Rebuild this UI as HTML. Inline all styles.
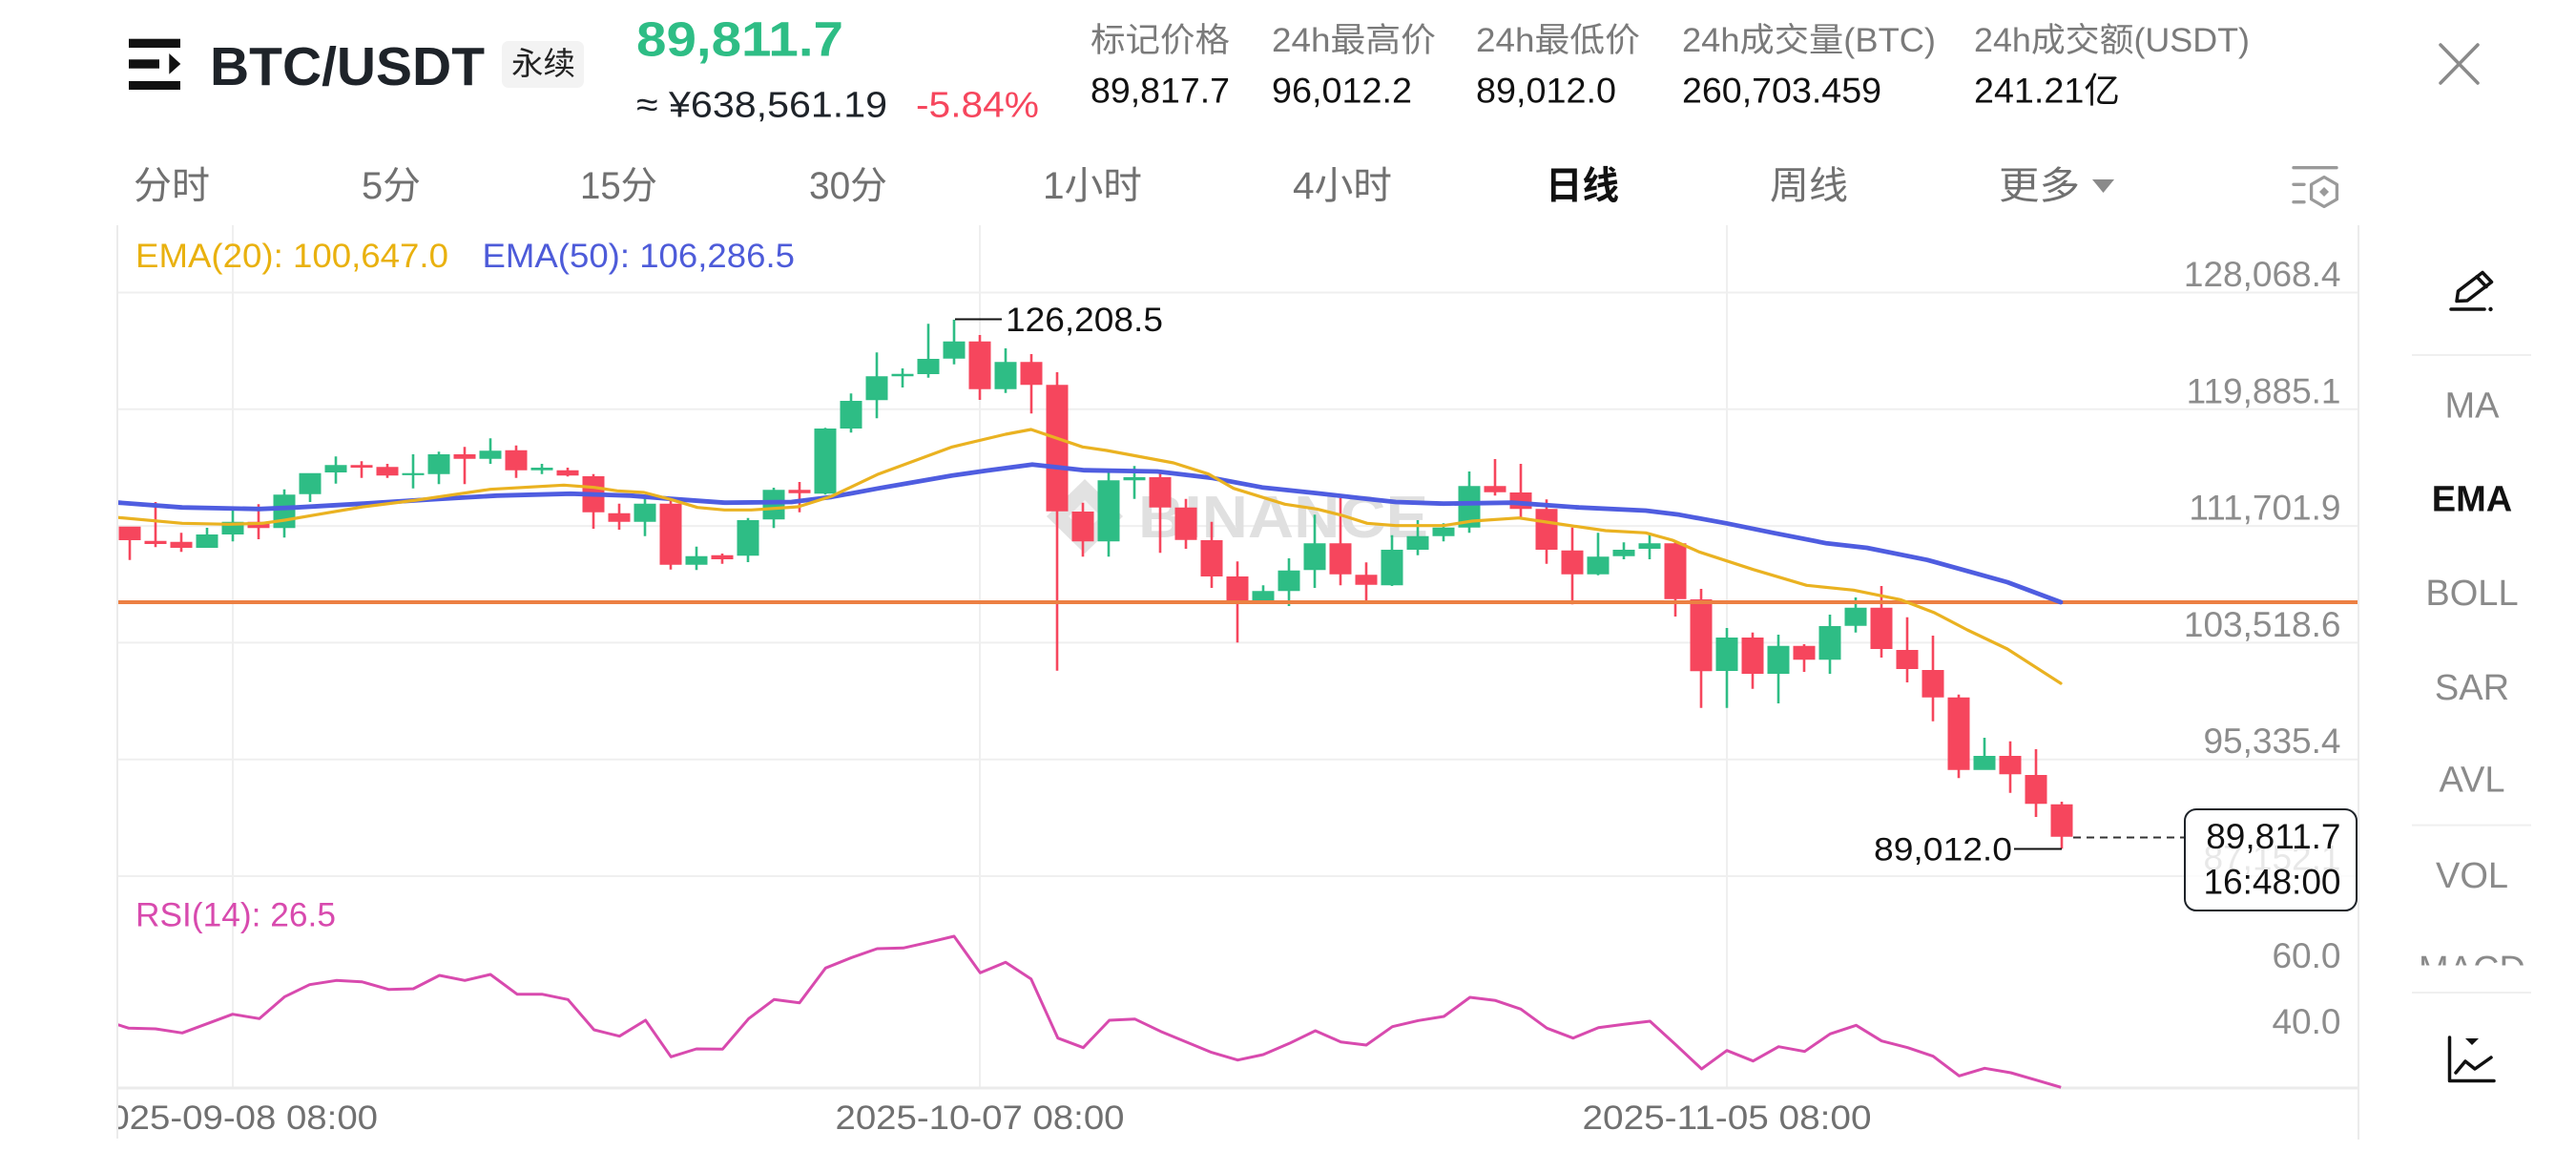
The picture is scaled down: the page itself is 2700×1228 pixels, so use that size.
<!DOCTYPE html>
<html>
<head>
<meta charset="utf-8">
<style>
html,body{margin:0;padding:0;background:#fff;overflow:hidden;}
svg{display:block;}
text{font-family:"Liberation Sans","Noto Sans CJK SC",sans-serif;}
</style>
</head>
<body>
<svg xmlns="http://www.w3.org/2000/svg" width="2700" height="1228" viewBox="0 0 2700 1228">
<defs>
<clipPath id="cc"><rect x="124" y="230" width="2347" height="980"/></clipPath>
<clipPath id="macd"><rect x="2480" y="980" width="220" height="31.5"/></clipPath>
</defs>
<rect width="2700" height="1228" fill="#fff"/>

<!-- Header -->
<g fill="#111">
<rect x="135" y="40.7" width="54" height="9.3"/>
<rect x="135" y="62.3" width="32" height="9.4"/>
<polygon points="177.3,56 189.3,67 177.3,77.7"/>
<rect x="135" y="85" width="54" height="9"/>
</g>
<text x="220" y="89" font-size="57" font-weight="bold" fill="#1e2329" textLength="288" lengthAdjust="spacingAndGlyphs">BTC/USDT</text>
<rect x="526" y="43" width="86" height="49" rx="7" fill="#f3f3f3"/>
<text x="536" y="78" font-size="33" fill="#222" textLength="67" lengthAdjust="spacingAndGlyphs">永续</text>
<text x="667" y="58.3" font-size="51" font-weight="bold" fill="#2ebd85" textLength="217" lengthAdjust="spacingAndGlyphs">89,811.7</text>
<text x="667" y="122.7" font-size="38" fill="#1e2329" textLength="263" lengthAdjust="spacingAndGlyphs">≈ ¥638,561.19</text>
<text x="960" y="122.7" font-size="38" fill="#f6465d" textLength="129" lengthAdjust="spacingAndGlyphs">-5.84%</text>

<g font-size="35" fill="#7a7a7a">
<text x="1143" y="54" textLength="146" lengthAdjust="spacingAndGlyphs">标记价格</text>
<text x="1333" y="54" textLength="172" lengthAdjust="spacingAndGlyphs">24h最高价</text>
<text x="1547" y="54" textLength="172" lengthAdjust="spacingAndGlyphs">24h最低价</text>
<text x="1763" y="54" textLength="266" lengthAdjust="spacingAndGlyphs">24h成交量(BTC)</text>
<text x="2069" y="54" textLength="289" lengthAdjust="spacingAndGlyphs">24h成交额(USDT)</text>
</g>
<g font-size="37" fill="#111">
<text x="1143" y="107.3" textLength="146" lengthAdjust="spacingAndGlyphs">89,817.7</text>
<text x="1333" y="107.3" textLength="147" lengthAdjust="spacingAndGlyphs">96,012.2</text>
<text x="1547" y="107.3" textLength="147" lengthAdjust="spacingAndGlyphs">89,012.0</text>
<text x="1763" y="107.3" textLength="209" lengthAdjust="spacingAndGlyphs">260,703.459</text>
<text x="2069" y="107.3" textLength="153" lengthAdjust="spacingAndGlyphs">241.21亿</text>
</g>
<g stroke="#8a8a8a" stroke-width="3.5" stroke-linecap="round">
<line x1="2558" y1="47" x2="2597" y2="87"/>
<line x1="2597" y1="47" x2="2558" y2="87"/>
</g>

<!-- Tabs -->
<g font-size="40" fill="#707070">
<text x="140" y="208" textLength="80" lengthAdjust="spacingAndGlyphs">分时</text>
<text x="379" y="208" textLength="62" lengthAdjust="spacingAndGlyphs">5分</text>
<text x="608" y="208" textLength="81" lengthAdjust="spacingAndGlyphs">15分</text>
<text x="848" y="208" textLength="82" lengthAdjust="spacingAndGlyphs">30分</text>
<text x="1093" y="208" textLength="104" lengthAdjust="spacingAndGlyphs">1小时</text>
<text x="1355" y="208" textLength="104" lengthAdjust="spacingAndGlyphs">4小时</text>
<text x="1620" y="208" textLength="77" lengthAdjust="spacingAndGlyphs" font-weight="bold" fill="#111">日线</text>
<text x="1855" y="208" textLength="82" lengthAdjust="spacingAndGlyphs">周线</text>
<text x="2095" y="208" textLength="85" lengthAdjust="spacingAndGlyphs">更多</text>
</g>
<polygon points="2193,188 2216,188 2204.5,202" fill="#8a8a8a"/>
<g stroke="#9a9a9a" stroke-width="3.3" stroke-linecap="round" fill="none">
<line x1="2404" y1="175.7" x2="2449" y2="175.7"/>
<line x1="2404" y1="193.3" x2="2415" y2="193.3"/>
<line x1="2404" y1="211.7" x2="2415" y2="211.7"/>
<polygon points="2436,185.5 2449.4,193.25 2449.4,208.75 2436,216.5 2422.6,208.75 2422.6,193.25" stroke-linejoin="round"/>
</g>
<polygon points="2436,196 2441,201 2436,206 2431,201" fill="#9a9a9a"/>

<!-- Grid -->
<g stroke="#efefef" stroke-width="2">
<line x1="123" y1="306.5" x2="2472" y2="306.5"/>
<line x1="123" y1="428.8" x2="2472" y2="428.8"/>
<line x1="123" y1="551.1" x2="2472" y2="551.1"/>
<line x1="123" y1="673.4" x2="2472" y2="673.4"/>
<line x1="123" y1="795.7" x2="2472" y2="795.7"/>
<line x1="123" y1="918" x2="2472" y2="918"/>
<line x1="244" y1="236" x2="244" y2="1140"/>
<line x1="1027" y1="236" x2="1027" y2="1140"/>
<line x1="1810" y1="236" x2="1810" y2="1140"/>
</g>
<line x1="123" y1="236" x2="123" y2="1193" stroke="#ebebeb" stroke-width="2"/>
<line x1="2472" y1="236" x2="2472" y2="1194" stroke="#ebebeb" stroke-width="2"/>
<line x1="123" y1="1140" x2="2472" y2="1140" stroke="#ebebeb" stroke-width="3"/>

<!-- Watermark -->
<g fill="#e2e2e2">
<polygon points="1137,502 1177,541 1137,580 1097,541"/>
</g>
<polygon points="1137,524 1154,541 1137,558 1120,541" fill="#f4f4f4"/>
<text x="1193" y="563" font-size="62" font-weight="bold" fill="#e0e0e0" textLength="304" lengthAdjust="spacingAndGlyphs">BINANCE</text>

<g clip-path="url(#cc)">
<!-- Red candles -->
<path fill="#f6465d" d="
M134.7 551.7h2.6V586.7h-2.6z M124.5 551.7h23V566h-23z
M161.7 526h2.6V573.3h-2.6z M151.5 566.7h23V570h-23z
M188.7 558.3h2.6V578.3h-2.6z M178.5 567.7h23V574h-23z
M269.7 528.3h2.6V565h-2.6z M259.5 546.7h23V553.3h-23z
M377.7 483.3h2.6V500.7h-2.6z M367.5 487.3h23V490h-23z
M404.7 486h2.6V500.7h-2.6z M394.5 489.3h23V498.3h-23z
M485.7 468.3h2.6V507.3h-2.6z M475.5 476h23V480.7h-23z
M539.7 466.7h2.6V500.7h-2.6z M529.5 471.7h23V492.7h-23z
M593.7 490h2.6V499.3h-2.6z M583.5 492.7h23V498.3h-23z
M620.7 496.7h2.6V554h-2.6z M610.5 499h23V536.7h-23z
M647.7 527.7h2.6V555h-2.6z M637.5 537.7h23V546.7h-23z
M701.7 523.3h2.6V596.7h-2.6z M691.5 527.7h23V591.7h-23z
M755.7 580h2.6V590.7h-2.6z M745.5 581.7h23V586h-23z
M836.7 505h2.6V536.7h-2.6z M826.5 513.3h23V516.7h-23z
M1025.7 351h2.6V419h-2.6z M1015.5 357.7h23V407.7h-23z
M1079.7 371h2.6V433.3h-2.6z M1069.5 379.3h23V403.3h-23z
M1106.7 390h2.6V702.7h-2.6z M1096.5 403.3h23V535.7h-23z
M1133.7 526.7h2.6V583.3h-2.6z M1123.5 536h23V567.3h-23z
M1214.7 495h2.6V579.3h-2.6z M1204.5 500h23V531.7h-23z
M1241.7 522.7h2.6V575h-2.6z M1231.5 531.7h23V565.7h-23z
M1268.7 546.7h2.6V616h-2.6z M1258.5 566h23V604h-23z
M1295.7 588.3h2.6V673.3h-2.6z M1285.5 604h23V630h-23z
M1403.7 521.7h2.6V613.3h-2.6z M1393.5 569.3h23V601.7h-23z
M1430.7 589.3h2.6V630h-2.6z M1420.5 602.3h23V612.7h-23z
M1565.7 481h2.6V519.3h-2.6z M1555.5 509.3h23V515.7h-23z
M1592.7 486h2.6V541.7h-2.6z M1582.5 516h23V533.3h-23z
M1619.7 523.3h2.6V590.7h-2.6z M1609.5 533.3h23V576h-23z
M1646.7 552.7h2.6V633.3h-2.6z M1636.5 576.7h23V601.7h-23z
M1754.7 566.7h2.6V646h-2.6z M1744.5 569.3h23V627.7h-23z
M1781.7 617h2.6V741.7h-2.6z M1771.5 628h23V703.3h-23z
M1835.7 662.7h2.6V721.7h-2.6z M1825.5 668h23V706h-23z
M1889.7 675h2.6V704h-2.6z M1879.5 676.7h23V691.3h-23z
M1970.7 614h2.6V689h-2.6z M1960.5 636.7h23V680h-23z
M1997.7 646.7h2.6V715h-2.6z M1987.5 681h23V701h-23z
M2024.7 666h2.6V755.7h-2.6z M2014.5 702h23V730.7h-23z
M2051.7 727.7h2.6V815.3h-2.6z M2041.5 730.7h23V806.7h-23z
M2105.7 776.7h2.6V830.7h-2.6z M2095.5 792h23V811.3h-23z
M2132.7 785h2.6V856h-2.6z M2122.5 812h23V842.3h-23z
M2159.7 840h2.6V889.3h-2.6z M2149.5 842.7h23V876.7h-23z"/>
<!-- Green candles -->
<path fill="#2ebd85" d="
M215.7 553h2.6V574h-2.6z M205.5 560h23V574h-23z
M242.7 535h2.6V567.3h-2.6z M232.5 546.7h23V560h-23z
M296.7 512.7h2.6V563.3h-2.6z M286.5 518.3h23V553.3h-23z
M323.7 495.7h2.6V526h-2.6z M313.5 495.7h23V517.7h-23z
M350.7 478.3h2.6V506.7h-2.6z M340.5 487.3h23V495h-23z
M431.7 476h2.6V511.7h-2.6z M421.5 495.7h23V497.9h-23z
M458.7 473.3h2.6V507.3h-2.6z M448.5 476h23V496.7h-23z
M512.7 459.3h2.6V486h-2.6z M502.5 472.3h23V480.7h-23z
M566.7 486h2.6V496.7h-2.6z M556.5 490h23V492.7h-23z
M674.7 521.7h2.6V561.7h-2.6z M664.5 527.7h23V546.7h-23z
M728.7 572.7h2.6V597.3h-2.6z M718.5 582.7h23V591.7h-23z
M782.7 542.7h2.6V589h-2.6z M772.5 545h23V582.3h-23z
M809.7 511h2.6V553.3h-2.6z M799.5 513.3h23V544.3h-23z
M863.7 448.3h2.6V518.3h-2.6z M853.5 449h23V517.3h-23z
M890.7 412.3h2.6V453.3h-2.6z M880.5 420h23V449h-23z
M917.7 369.3h2.6V438.3h-2.6z M907.5 394.3h23V419.3h-23z
M944.7 386h2.6V406h-2.6z M934.5 391.7h23V394.3h-23z
M971.7 339.3h2.6V395.7h-2.6z M961.5 376h23V392h-23z
M998.7 335h2.6V381.7h-2.6z M988.5 357.7h23V375.7h-23z
M1052.7 365h2.6V411.7h-2.6z M1042.5 379.3h23V407.7h-23z
M1160.7 493.3h2.6V583.3h-2.6z M1150.5 503.3h23V567.3h-23z
M1187.7 488.3h2.6V522.7h-2.6z M1177.5 500h23V503.3h-23z
M1322.7 613.3h2.6V630h-2.6z M1312.5 619.3h23V630h-23z
M1349.7 585h2.6V635h-2.6z M1339.5 597.7h23V619.3h-23z
M1376.7 539.3h2.6V616h-2.6z M1366.5 569.3h23V597.3h-23z
M1457.7 560.7h2.6V614h-2.6z M1447.5 576h23V613.3h-23z
M1484.7 545h2.6V581.7h-2.6z M1474.5 561.7h23V576h-23z
M1511.7 548.3h2.6V567.3h-2.6z M1501.5 552.7h23V561.7h-23z
M1538.7 494h2.6V558.3h-2.6z M1528.5 509.3h23V552.7h-23z
M1673.7 558.3h2.6V602.7h-2.6z M1663.5 583.3h23V601.7h-23z
M1700.7 568.3h2.6V586h-2.6z M1690.5 576h23V582.7h-23z
M1727.7 560h2.6V586h-2.6z M1717.5 569.3h23V575h-23z
M1808.7 658h2.6V741.7h-2.6z M1798.5 668h23V703h-23z
M1862.7 665h2.6V737h-2.6z M1852.5 676.7h23V706h-23z
M1916.7 644h2.6V706h-2.6z M1906.5 656h23V691.3h-23z
M1943.7 626h2.6V662.7h-2.6z M1933.5 636.7h23V655.7h-23z
M2078.7 773h2.6V806.7h-2.6z M2068.5 792h23V806.7h-23z"/>

<!-- Orange horizontal line -->
<line x1="123" y1="631" x2="2472" y2="631" stroke="#ec8043" stroke-width="4"/>

<!-- EMA50 -->
<polyline fill="none" stroke="#4f5de0" stroke-width="4.8" stroke-linejoin="round" stroke-linecap="round" points="120,526.5 124.6,526.7 191,531.7 271.9,533.3 310.5,531.7 380.6,527.7 450.8,523.3 521,519.3 598,517.3 661,519.3 703.3,522.7 759.4,526.7 829.6,526 871.6,520.7 920.7,511.7 998,498.3 1033,493.3 1082,486.7 1136.7,492.7 1213,494 1270,500.7 1323,510.7 1380,516.7 1433,522.7 1463,526 1513,527.7 1585,526.7 1655,531.7 1725,535 1760,539.3 1809.4,548.3 1858.5,558.3 1914.6,569.3 1956.7,574 2020,586.7 2062,598.3 2104,610 2160,631"/>
<!-- EMA20 -->
<polyline fill="none" stroke="#eab221" stroke-width="3.2" stroke-linejoin="round" stroke-linecap="round" points="120,542 124.6,542.3 191,548.3 240,549.3 275,548.3 298.5,545 331.5,539.3 380.6,531 436.7,524 513.9,512.7 591,508.3 622.6,510.7 647,514.3 675,516 703,523.3 731,531.7 759.4,534.3 787.5,534.3 836.6,531 871.6,520 920.7,496.7 998,468.3 1054,455 1080.7,450 1134.7,468.3 1160,472 1203,480 1230,485 1266.7,496.7 1293,511.7 1346.7,528.3 1380,533.3 1406.7,540 1433,548.3 1463,550.7 1513,550.7 1542.8,546 1592,542.7 1641,550 1683,556 1725,558.3 1753,566 1781,578.3 1837.5,596.7 1893.6,613.3 1942.7,618.3 1991.8,628.3 2026.9,641.7 2062,660 2104,680 2160,716"/>

<!-- RSI -->
<polyline fill="none" stroke="#d84aae" stroke-width="3" stroke-linejoin="round" points="120,1073 124.6,1074 135,1077.3 163,1078 191,1082.3 243.8,1062.7 271.9,1067.3 298.5,1044.3 324.5,1031.7 352.5,1027.3 379.2,1028.7 407.3,1036.7 433.2,1036 460.6,1022 487.2,1027.3 514,1021 542,1041.7 568,1041.7 595.3,1047.3 622.6,1079 649.3,1085.7 676.6,1069 703.3,1107.3 730,1099 757.3,1099.3 784.7,1067.3 811.3,1047.3 838,1050.7 865.3,1014.3 892.7,1003.3 919.4,994 946.7,993.3 973.4,987.3 1000,981 1027.4,1019.3 1054,1008.3 1080.7,1025.7 1108.8,1087.7 1135.4,1097.7 1162.8,1069 1189.4,1067.7 1216.6,1080.7 1243.3,1091.7 1270,1102.7 1297.3,1110.7 1324,1105 1351.3,1093.3 1378.7,1080 1405.4,1091.7 1432,1095 1459.4,1075.7 1486.7,1069.3 1513.4,1065 1540.7,1045 1567.4,1048.3 1594,1057.3 1621.4,1077.3 1648.8,1087.7 1675.4,1076.7 1702,1073.3 1729.4,1070 1756.8,1095 1783.5,1120 1810,1100.7 1837.5,1111.7 1864.2,1096.7 1891.5,1101.7 1918.2,1083.3 1945.5,1074.3 1972.2,1090.7 1999.5,1097.7 2026.2,1106.7 2053.5,1127.3 2080.2,1119.3 2107.6,1124 2134.2,1131.7 2160.2,1139.3"/>

<!-- Date labels -->
<g font-size="35" fill="#707070" text-anchor="middle">
<text x="244.5" y="1183" textLength="303" lengthAdjust="spacingAndGlyphs">2025-09-08 08:00</text>
<text x="1027" y="1183" textLength="303" lengthAdjust="spacingAndGlyphs">2025-10-07 08:00</text>
<text x="1810" y="1183" textLength="303" lengthAdjust="spacingAndGlyphs">2025-11-05 08:00</text>
</g>
</g>

<!-- Legends -->
<text x="142" y="280" font-size="35" fill="#e9b10f" textLength="328" lengthAdjust="spacingAndGlyphs">EMA(20): 100,647.0</text>
<text x="505.5" y="280" font-size="35" fill="#4d5bd9" textLength="327.5" lengthAdjust="spacingAndGlyphs">EMA(50): 106,286.5</text>
<text x="142" y="970.7" font-size="35" fill="#d84aae" textLength="210" lengthAdjust="spacingAndGlyphs">RSI(14): 26.5</text>

<!-- High / Low annotations -->
<line x1="1001" y1="334.5" x2="1050" y2="334.5" stroke="#111" stroke-width="2"/>
<text x="1054" y="347" font-size="35" fill="#111" textLength="165" lengthAdjust="spacingAndGlyphs">126,208.5</text>
<line x1="2111" y1="889.5" x2="2161" y2="889.5" stroke="#111" stroke-width="2"/>
<text x="2109" y="901.7" font-size="34" fill="#111" text-anchor="end" textLength="145" lengthAdjust="spacingAndGlyphs">89,012.0</text>

<!-- Price axis labels -->
<g font-size="37" fill="#8c8c8c" text-anchor="end">
<text x="2453.5" y="300">128,068.4</text>
<text x="2453.5" y="422.3">119,885.1</text>
<text x="2453.5" y="544.6">111,701.9</text>
<text x="2453.5" y="667">103,518.6</text>
<text x="2453.5" y="789.2">95,335.4</text>
<text x="2453.5" y="911.5">87,152.1</text>
<text x="2453.5" y="1014">60.0</text>
<text x="2453.5" y="1083">40.0</text>
</g>

<!-- Current price line & box -->
<line x1="2173" y1="877.5" x2="2290" y2="877.5" stroke="#333" stroke-width="2" stroke-dasharray="8 6"/>
<rect x="2290" y="848" width="180" height="106" rx="12" fill="#fff" fill-opacity="0.8" stroke="#1e2329" stroke-width="2"/>
<g font-size="37" fill="#111" text-anchor="end">
<text x="2453.5" y="889">89,811.7</text>
<text x="2453.5" y="936.6">16:48:00</text>
</g>

<!-- Sidebar -->
<g fill="none" stroke="#111" stroke-width="3.5" stroke-linejoin="round" stroke-linecap="round">
<path d="M2575,315.5 L2576.5,305 L2602,285.5 L2611.5,295.5 L2586,315 Z"/>
<line x1="2596" y1="290" x2="2606" y2="300.5"/>
<line x1="2569" y1="324" x2="2604" y2="324"/>
</g>
<circle cx="2610.5" cy="324" r="2.2" fill="#111"/>
<g stroke="#efefef" stroke-width="2">
<line x1="2528" y1="372" x2="2653" y2="372"/>
<line x1="2528" y1="864.6" x2="2653" y2="864.6"/>
<line x1="2528" y1="1040" x2="2653" y2="1040"/>
</g>
<g font-size="38" fill="#8a8a8a" text-anchor="middle">
<text x="2591" y="437.5">MA</text>
<text x="2591" y="535.5" font-weight="bold" fill="#111">EMA</text>
<text x="2591" y="634">BOLL</text>
<text x="2591" y="733">SAR</text>
<text x="2591" y="829.6">AVL</text>
<text x="2591" y="930.2">VOL</text>
<text x="2591" y="1028" clip-path="url(#macd)">MACD</text>
</g>
<g fill="none" stroke="#111" stroke-width="3.5" stroke-linejoin="round" stroke-linecap="round">
<polyline points="2567.5,1087 2567.5,1132.5 2614,1132.5"/>
<polyline points="2574,1124 2584,1112 2594,1120 2611,1108"/>
</g>
<polygon points="2584,1088 2598,1088 2591,1095" fill="#111"/>
</svg>
</body>
</html>
